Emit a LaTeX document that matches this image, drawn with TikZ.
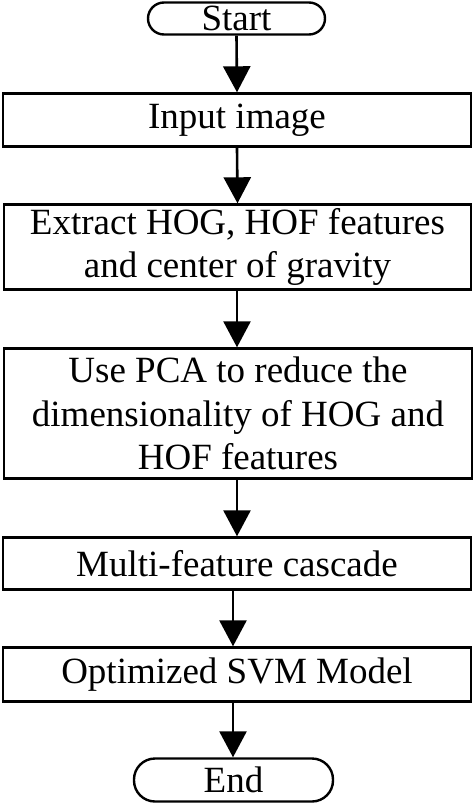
\documentclass[tikz,border=0pt]{standalone}
\usepackage{fontspec}
\setmainfont{Liberation Serif}
\usetikzlibrary{arrows.meta}
\begin{document}
\begin{tikzpicture}[x=1pt,y=-1pt,
  box/.style={draw,line width=2.4pt,inner sep=0pt,align=center,
    font=\fontsize{37}{43.5}\selectfont},
  term/.style={box,rounded corners=16pt},
  flow/.style={line width=2.6pt,-{Triangle[width=27pt,length=26pt]}}]
\useasboundingbox (0,0) rectangle (474,804);
\node[term,minimum width=177pt,minimum height=32pt] (start) at (236.5,18.5) {Start};
\node[box,minimum width=468pt,minimum height=53pt] (input) at (237,120) {Input image};
\node[box,minimum width=467pt,minimum height=85pt] (extract) at (237.5,247) {Extract HOG, HOF features\\and center of gravity};
\node[box,minimum width=468pt,minimum height=130pt] (pca) at (238,413.5) {Use PCA to reduce the\\dimensionality of HOG and\\HOF features};
\node[box,minimum width=468pt,minimum height=52pt] (multi) at (237,563.5) {Multi-feature cascade};
\node[box,minimum width=468pt,minimum height=54pt] (opt) at (237,674.5) {Optimized SVM Model};
\node[term,minimum width=199pt,minimum height=43pt,rounded corners=21pt] (end) at (233.5,780) {End};
\draw[flow] (start.south) -- (input.north);
\draw[flow] (input.south) -- (extract.north);
\draw[flow] ([xshift=-0.5pt]extract.south) -- ([xshift=-0.5pt]extract.south |- pca.north);
\draw[flow] ([xshift=-1pt]pca.south) -- ([xshift=-1pt]pca.south |- multi.north);
\draw[flow] ([xshift=-4pt]multi.south) -- ([xshift=-4pt]opt.north);
\draw[flow] ([xshift=-4pt]opt.south) -- ([xshift=-4pt]opt.south |- end.north);
\end{tikzpicture}
\end{document}
